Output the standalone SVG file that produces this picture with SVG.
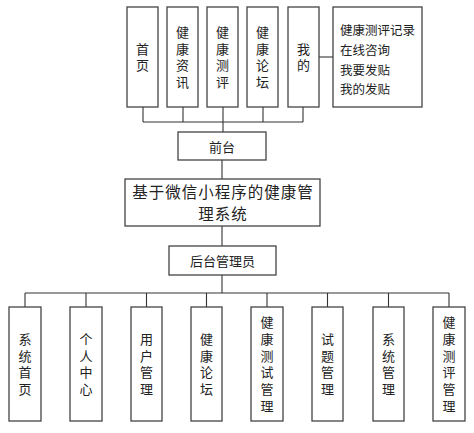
<svg xmlns="http://www.w3.org/2000/svg" width="474" height="433" viewBox="0 0 474 433">
<style>
.b{fill:#fff;stroke:#444;stroke-width:1.3}
.c{fill:none;stroke:#333;stroke-width:1.1}
text{font-family:"Noto Sans CJK SC","Noto Sans",sans-serif;font-size:13px;fill:#222;text-anchor:middle;dominant-baseline:central}
.v{writing-mode:vertical-rl;letter-spacing:3.8px}
.l{text-anchor:start;font-size:12.5px}
.t{font-family:"Liberation Serif","Noto Sans CJK SC",serif;font-size:15.5px;letter-spacing:1px}
</style>
<rect width="474" height="433" fill="#fff"/>
<g id="connectors">
<path class="c" d="M143 107V122M183 107V122M223 107V122M263 107V122M303 107V122M143 122H303M223 122V132"/>
<path class="c" d="M319 57H333"/>
<path class="c" d="M222 160V179M222 226V246M222 275V293"/>
<path class="c" d="M25 293H449M25 293V307M86 293V307M146.5 293V307M206.5 293V307M267 293V307M327.5 293V307M388.5 293V307M449 293V307"/>
</g>
<g id="n-home"><rect class="b" x="127" y="7" width="31" height="100"/><text class="v" x="142.5" y="59">首页</text></g>
<g id="n-news"><rect class="b" x="167" y="7" width="31" height="100"/><text class="v" x="182.5" y="59">健康资讯</text></g>
<g id="n-eval"><rect class="b" x="207" y="7" width="31" height="100"/><text class="v" x="222.5" y="59">健康测评</text></g>
<g id="n-forum"><rect class="b" x="247" y="7" width="31" height="100"/><text class="v" x="262.5" y="59">健康论坛</text></g>
<g id="n-mine"><rect class="b" x="288" y="7" width="31" height="100"/><text class="v" x="303.5" y="59">我的</text></g>
<g id="n-mine-list"><rect class="b" x="333" y="7" width="89" height="100"/><text class="l" x="340" y="29">健康测评记录</text><text class="l" x="340" y="49">在线咨询</text><text class="l" x="340" y="69">我要发贴</text><text class="l" x="340" y="88">我的发贴</text></g>
<g id="n-front"><rect class="b" x="178" y="132" width="88" height="28"/><text x="222" y="146">前台</text></g>
<g id="n-system"><rect class="b" x="125" y="179" width="195" height="47"/><text class="t" x="223" y="192">基于微信小程序的健康管</text><text class="t" x="223" y="214">理系统</text></g>
<g id="n-admin"><rect class="b" x="169" y="246" width="107" height="29"/><text x="222.5" y="260.5">后台管理员</text></g>
<g id="n-b1"><rect class="b" x="9" y="307" width="32" height="114"/><text class="v" x="25" y="366">系统首页</text></g>
<g id="n-b2"><rect class="b" x="70" y="307" width="32" height="114"/><text class="v" x="86" y="366">个人中心</text></g>
<g id="n-b3"><rect class="b" x="131" y="307" width="31" height="114"/><text class="v" x="146.5" y="366">用户管理</text></g>
<g id="n-b4"><rect class="b" x="191" y="307" width="31" height="114"/><text class="v" x="206.5" y="366">健康论坛</text></g>
<g id="n-b5"><rect class="b" x="251" y="307" width="32" height="114"/><text class="v" x="267" y="366">健康测试管理</text></g>
<g id="n-b6"><rect class="b" x="312" y="307" width="31" height="114"/><text class="v" x="327.5" y="366">试题管理</text></g>
<g id="n-b7"><rect class="b" x="373" y="307" width="31" height="114"/><text class="v" x="388.5" y="366">系统管理</text></g>
<g id="n-b8"><rect class="b" x="433" y="307" width="32" height="114"/><text class="v" x="449" y="366">健康测评管理</text></g>
</svg>
